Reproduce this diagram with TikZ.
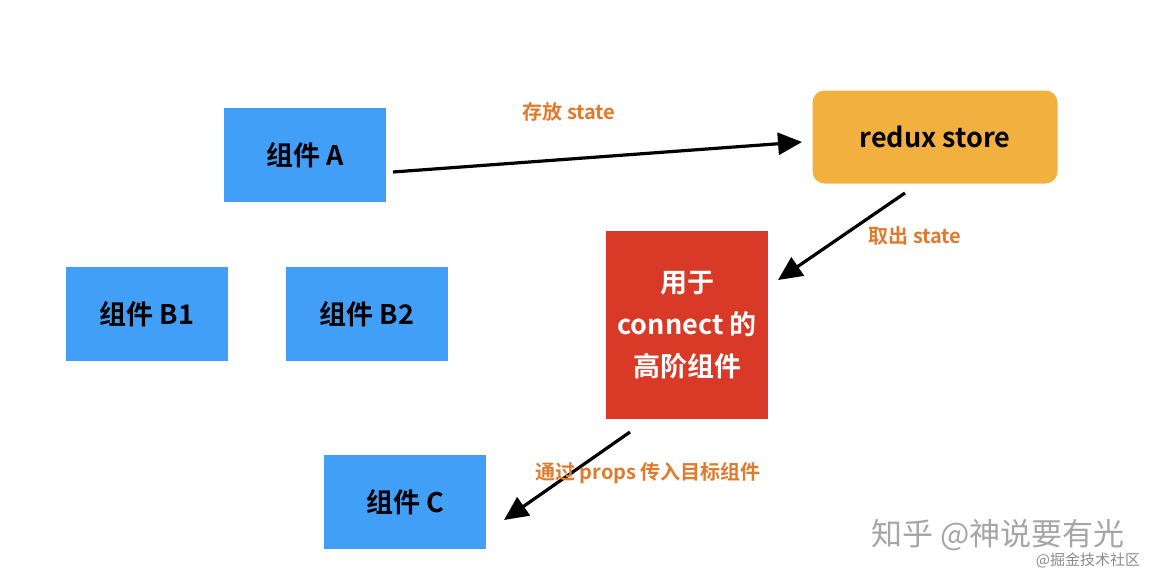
\documentclass[tikz,border=0pt]{standalone}
\usepackage{fontspec}
\setmainfont{Noto Sans CJK SC}[BoldFont={* Bold}]
\usetikzlibrary{arrows.meta}
\definecolor{bl}{HTML}{419FF8}
\definecolor{og}{HTML}{F2B03F}
\definecolor{rd}{HTML}{D93A27}
\definecolor{lb}{HTML}{E07B2E}
\begin{document}
\begin{tikzpicture}[x=1pt,y=-1pt,
  box/.style={fill=bl,minimum width=162pt,minimum height=94pt,font=\fontsize{27}{32}\selectfont\bfseries,text=black,inner sep=0pt},
  arr/.style={line width=3.2pt,-{Triangle[length=24pt,width=22pt]},black},
  lab/.style={text=lb,font=\fontsize{20}{24}\selectfont\bfseries}]
\useasboundingbox[fill=white] (0,0) rectangle (1166,582);
\node[box] (a) at (305,155) {组件 A};
\node[box] (b1) at (147,314) {组件 B1};
\node[box] (b2) at (367,314) {组件 B2};
\node[box] (c) at (405,502) {组件 C};
\node[fill=og,rounded corners=12pt,minimum width=245pt,minimum height=93pt,font=\fontsize{27}{32}\selectfont\bfseries] (s) at (935,137) {redux store};
\node[fill=rd,minimum width=162pt,minimum height=188pt,text=white,align=center,font=\fontsize{27}{42}\selectfont\bfseries] (h) at (687,325) {用于\\connect 的\\高阶组件};
\coordinate (a1) at (393,172); \coordinate (a2) at (802,142);
\coordinate (s1) at (905,193); \coordinate (s2) at (778,280);
\coordinate (h1) at (630,432); \coordinate (h2) at (504,520);
\draw[arr] (a1) -- (a2);
\draw[arr] (s1) -- (s2);
\draw[arr] (h1) -- (h2);
\node[lab] (l1) at (569,112) {存放 state};
\node[lab] (l2) at (915,236) {取出 state};
\node[lab] (l3) at (648,473) {通过 props 传入目标组件};
\node[text=black!35,font=\fontsize{31}{34}\selectfont] (w1) at (998,535) {知乎 @神说要有光};
\node[text=black!45,font=\fontsize{15}{18}\selectfont] (w2) at (1088,560) {@掘金技术社区};
\end{tikzpicture}
\end{document}
